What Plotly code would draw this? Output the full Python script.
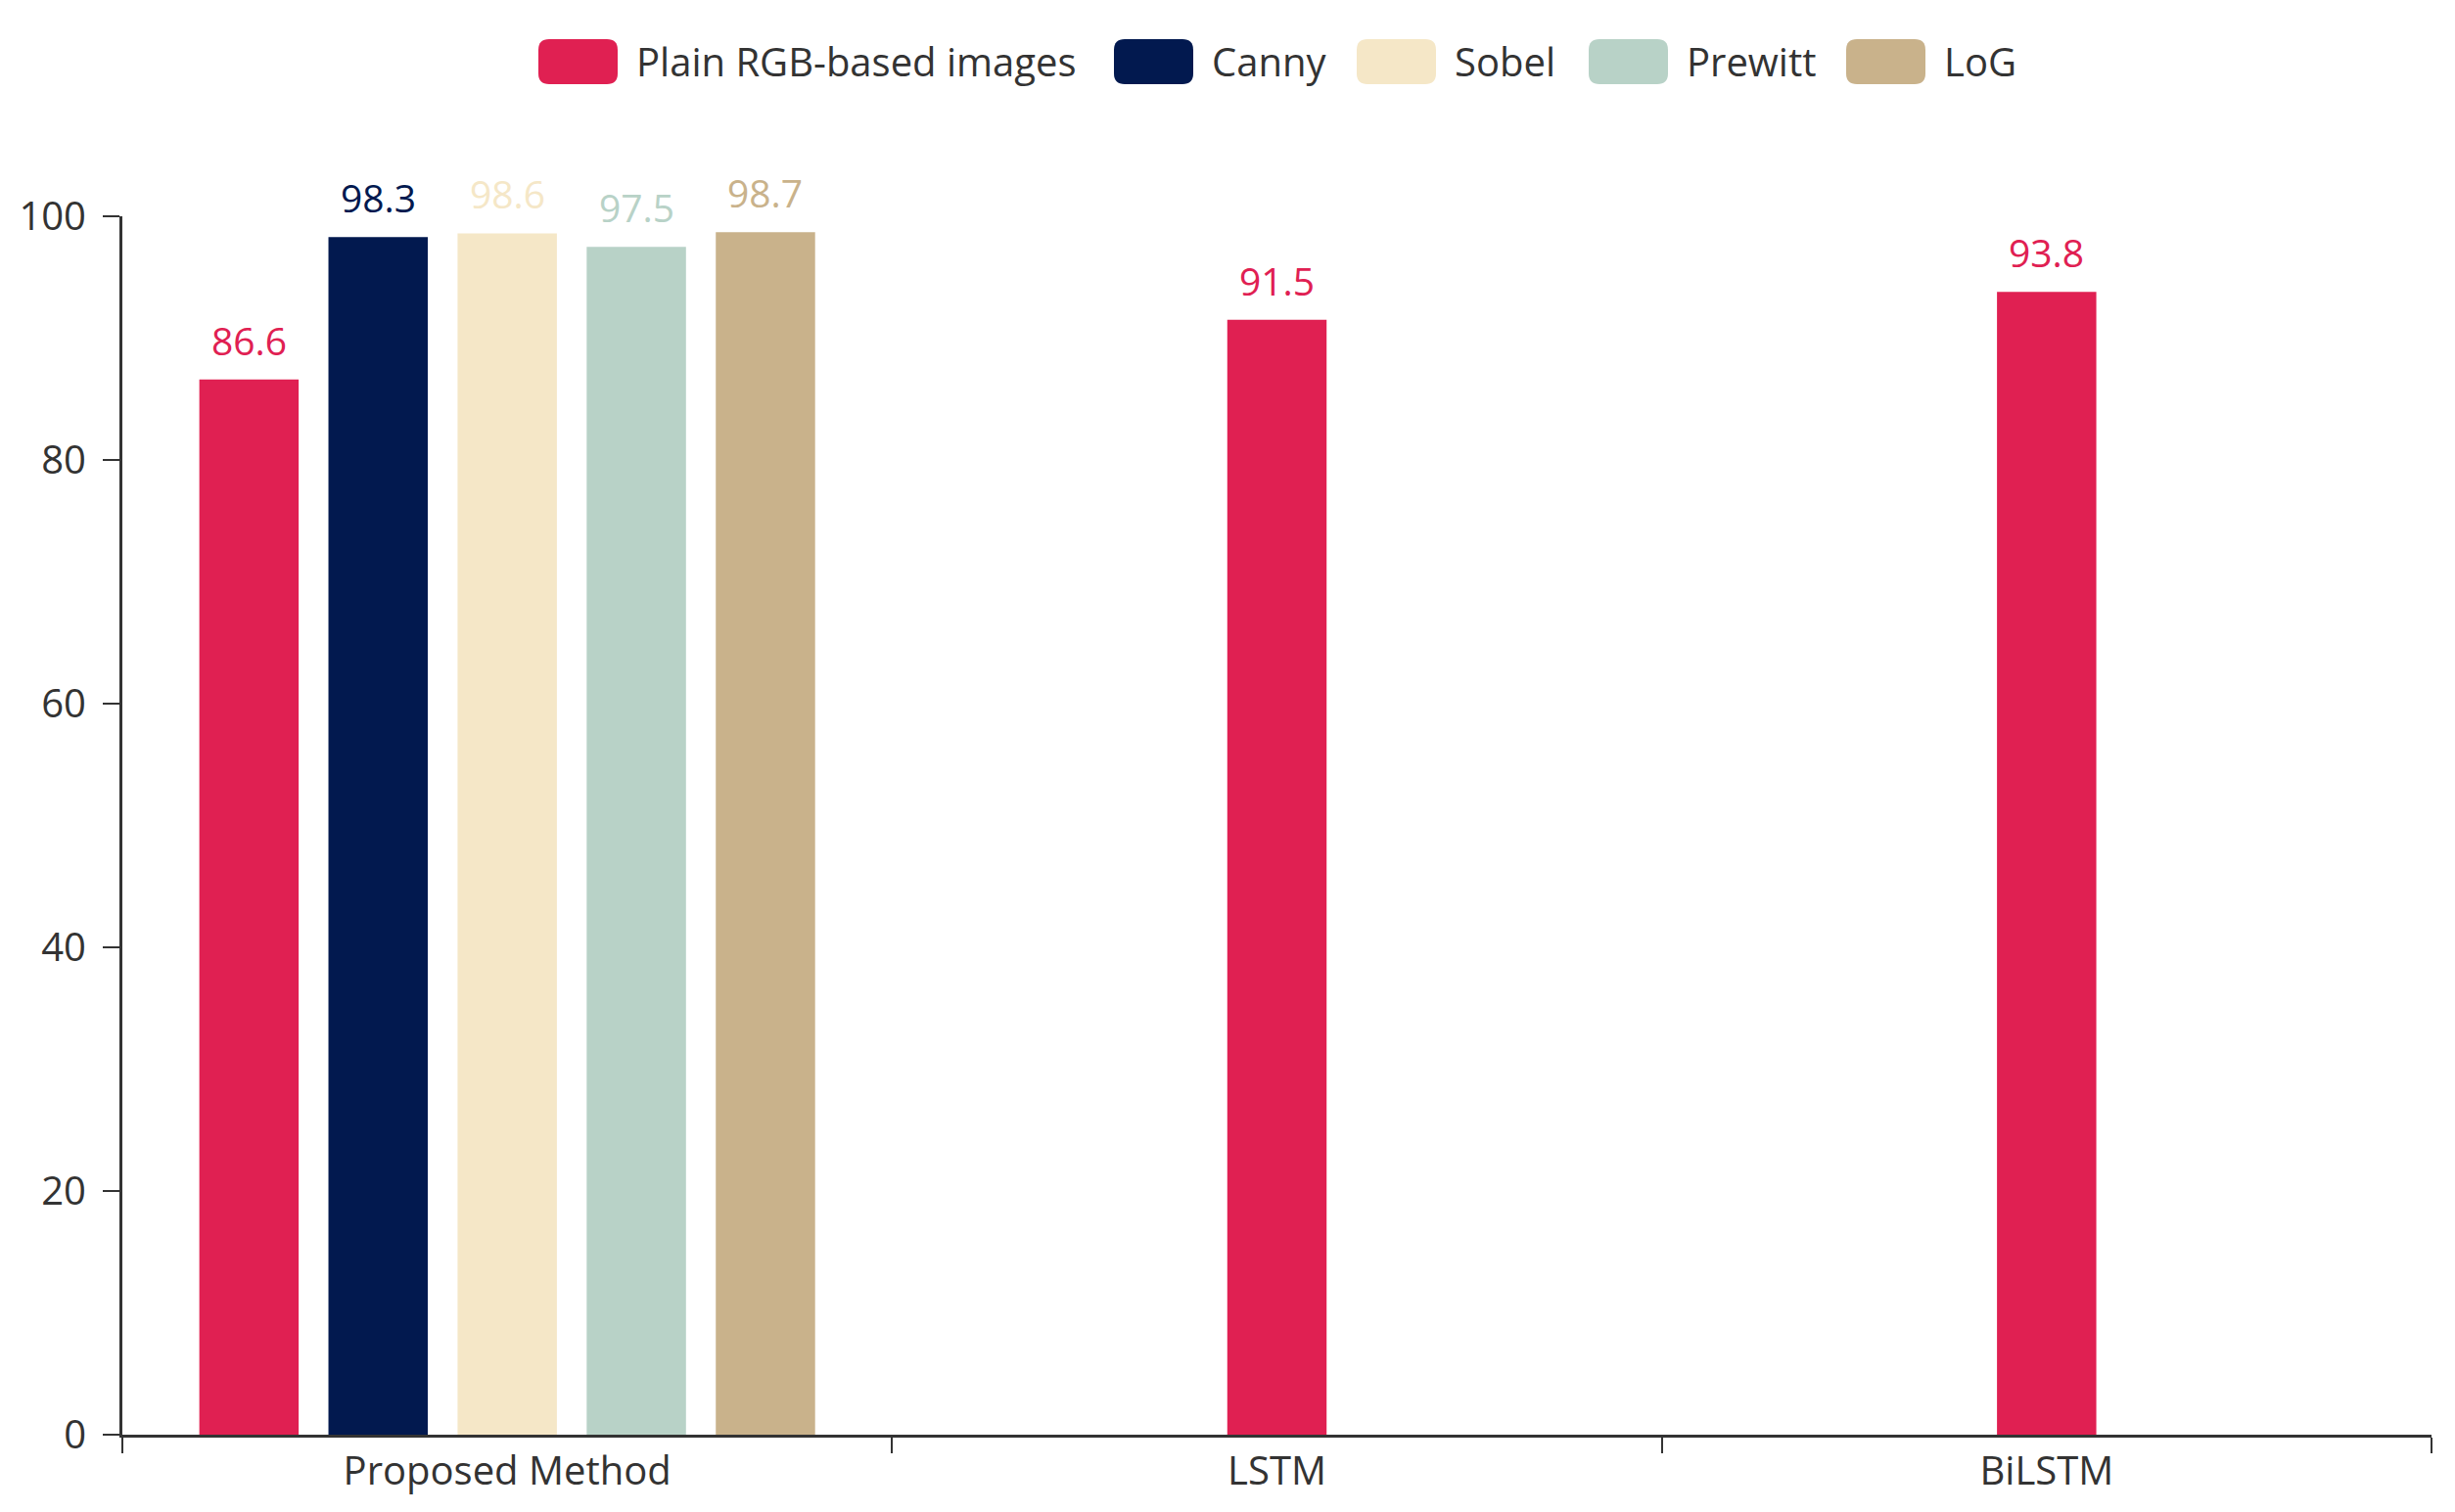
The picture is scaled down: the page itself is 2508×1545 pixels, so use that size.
import plotly.graph_objects as go

# ---------------- data ----------------
categories = ["Proposed Method", "LSTM", "BiLSTM"]
plain_rgb = [86.6, 91.5, 93.8]
canny = [98.3]
sobel = [98.6]
prewitt = [97.5]
log_vals = [98.7]
series_names = ["Plain RGB-based images", "Canny", "Sobel", "Prewitt", "LoG"]
y_ticks = [0, 20, 40, 60, 80, 100]

# ---------------- style ----------------
colors = ["#E02052", "#02194F", "#F5E7C7", "#B8D2C7", "#C9B28B"]
W, H = 2508, 1545
ML, MR, MT, MB = 117, 32, 213, 87
PW, PH = W - ML - MR, H - MT - MB
FONT = "Open Sans"
TXT = "#333333"

bw = 0.8 / 6.2           # bar width in category units (ECharts-like grouping)
step = 1.3 * bw          # distance between bar centres in a group
centres = [(k - 2) * step for k in range(5)]

fig = go.Figure()

# Plain RGB: grouped slot in first category, centred in the others
rgb_offsets = [centres[0] - bw / 2] + [-bw / 2] * (len(categories) - 1)
fig.add_trace(go.Bar(x=categories, y=plain_rgb, width=bw, offset=rgb_offsets,
                     marker=dict(color=colors[0], line=dict(width=0)),
                     name=series_names[0], showlegend=False))
others = [canny, sobel, prewitt, log_vals]
for k, vals in enumerate(others, start=1):
    fig.add_trace(go.Bar(x=categories[:len(vals)], y=vals, width=bw,
                         offset=centres[k] - bw / 2,
                         marker=dict(color=colors[k], line=dict(width=0)),
                         name=series_names[k], showlegend=False))

# value labels above bars
annotations = []
def add_label(xpos, val, col):
    annotations.append(dict(x=xpos, y=val, xref="x", yref="y", text=f"{val:.1f}",
                            showarrow=False, yanchor="bottom", xanchor="center",
                            yshift=12, font=dict(family=FONT, size=39, color=col)))

for i, v in enumerate(plain_rgb):
    add_label(i + (centres[0] if i == 0 else 0), v, colors[0])
for k, vals in enumerate(others, start=1):
    for i, v in enumerate(vals):
        add_label(i + centres[k], v, colors[k])

# ---------------- custom legend ----------------
def px2paper(px, py):
    return (px - ML) / PW, (H - MB - py) / PH

def rrect(x0, y0, x1, y1, r):
    def P(x, y):
        a, b = px2paper(x, y)
        return f"{a:.6f},{b:.6f}"
    return (f"M{P(x0 + r, y0)} L{P(x1 - r, y0)} Q{P(x1, y0)} {P(x1, y0 + r)} "
            f"L{P(x1, y1 - r)} Q{P(x1, y1)} {P(x1 - r, y1)} "
            f"L{P(x0 + r, y1)} Q{P(x0, y1)} {P(x0, y1 - r)} "
            f"L{P(x0, y0 + r)} Q{P(x0, y0)} {P(x0 + r, y0)} Z")

legend_swatch_x = [542, 1130, 1378, 1615, 1878]
sw_w, sw_h = 81, 46
leg_cy = 55
shapes = []
for k, name in enumerate(series_names):
    x0 = legend_swatch_x[k]
    shapes.append(dict(type="path", xref="paper", yref="paper",
                       path=rrect(x0, leg_cy - sw_h / 2, x0 + sw_w, leg_cy + sw_h / 2, 11),
                       fillcolor=colors[k], line=dict(width=0)))
    tx, ty = px2paper(x0 + sw_w + 17, leg_cy)
    annotations.append(dict(x=tx, y=ty, xref="paper", yref="paper", text=name,
                            showarrow=False, xanchor="left", yanchor="middle",
                            font=dict(family=FONT, size=40, color=TXT)))

fig.update_layout(
    width=W, height=H,
    margin=dict(l=ML, r=MR, t=MT, b=MB, pad=0),
    paper_bgcolor="white", plot_bgcolor="white",
    barmode="overlay",
    showlegend=False,
    font=dict(family=FONT, size=40, color=TXT),
    shapes=shapes,
    annotations=annotations,
    xaxis=dict(type="category", categoryorder="array", categoryarray=categories,
               range=[-0.5, len(categories) - 0.5],
               showline=True, linecolor="#333333", linewidth=3,
               ticks="outside", tickson="boundaries", ticklen=16, tickwidth=2,
               tickcolor="#333333", showgrid=False, zeroline=False,
               tickfont=dict(family=FONT, size=40, color=TXT)),
    yaxis=dict(range=[0, 100], tickvals=y_ticks, showline=True,
               linecolor="#333333", linewidth=3, ticks="outside", ticklen=17,
               tickwidth=2, tickcolor="#333333", showgrid=False, zeroline=False,
               ticklabelstandoff=9,
               tickfont=dict(family=FONT, size=40, color=TXT)),
)

fig.write_html("out.html")
